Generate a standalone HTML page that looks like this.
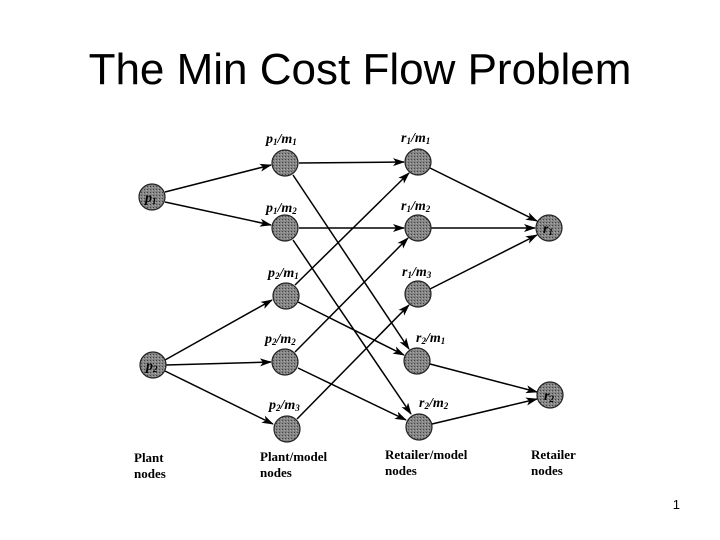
<!DOCTYPE html>
<html><head><meta charset="utf-8"><style>
body{margin:0;width:720px;height:540px;background:#fff;overflow:hidden;position:relative;font-family:"Liberation Sans",sans-serif}
h1{position:absolute;top:45px;left:0;width:720px;text-align:center;margin:0;font-weight:normal;font-size:44px;color:#000}
svg{position:absolute;left:0;top:0}
.pn{position:absolute;right:40px;top:497px;font-size:13px}
</style></head><body>
<h1>The Min Cost Flow Problem</h1>
<svg width="720" height="540" font-family="Liberation Serif, serif">
<defs>
<marker id="a" markerWidth="12" markerHeight="8" refX="11" refY="4" orient="auto" markerUnits="userSpaceOnUse"><path d="M0,0 L12,4 L0,8 L3,4z" fill="#000"/></marker>
<pattern id="s" width="3" height="3" patternUnits="userSpaceOnUse"><rect width="3" height="3" fill="#858585"/><rect width="1" height="1" fill="#444"/><rect x="2" y="1" width="1" height="1" fill="#aaa"/></pattern>
</defs>
<g stroke="#000" stroke-width="1.5" marker-end="url(#a)">
<line x1="165" y1="192" x2="271" y2="165"/>
<line x1="165" y1="202" x2="271" y2="225"/>
<line x1="165" y1="360" x2="272" y2="300"/>
<line x1="166" y1="365" x2="271" y2="362"/>
<line x1="165" y1="371" x2="273" y2="424"/>
<line x1="299" y1="163" x2="404" y2="162"/>
<line x1="293" y1="175" x2="409" y2="349"/>
<line x1="299" y1="228" x2="404" y2="228"/>
<line x1="293" y1="240" x2="411" y2="414"/>
<line x1="295" y1="285" x2="409" y2="173"/>
<line x1="298" y1="302" x2="404" y2="355"/>
<line x1="295" y1="352" x2="408" y2="238"/>
<line x1="298" y1="368" x2="406" y2="420"/>
<line x1="297" y1="419" x2="409" y2="305"/>
<line x1="430" y1="168" x2="537" y2="221"/>
<line x1="431" y1="228" x2="535" y2="228"/>
<line x1="430" y1="289" x2="537" y2="235"/>
<line x1="430" y1="364" x2="537" y2="392"/>
<line x1="432" y1="424" x2="537" y2="399"/>
</g>
<g fill="url(#s)" stroke="#222" stroke-width="1.2">
<circle cx="152" cy="197" r="13"/><circle cx="153" cy="365" r="13"/>
<circle cx="285" cy="163" r="13"/><circle cx="285" cy="228" r="13"/><circle cx="286" cy="296" r="13"/><circle cx="285" cy="362" r="13"/><circle cx="287" cy="429" r="13"/>
<circle cx="418" cy="162" r="13"/><circle cx="418" cy="228" r="13"/><circle cx="418" cy="294" r="13"/><circle cx="417" cy="361" r="13"/><circle cx="419" cy="427" r="13"/>
<circle cx="549" cy="228" r="13"/><circle cx="550" cy="395" r="13"/>
</g>
<g font-size="14" font-style="italic" font-weight="bold" fill="#000">
<text x="145" y="202">p<tspan font-size="9" dy="2">1</tspan></text>
<text x="146" y="370">p<tspan font-size="9" dy="2">2</tspan></text>
<text x="543" y="233">r<tspan font-size="9" dy="2">1</tspan></text>
<text x="544" y="400">r<tspan font-size="9" dy="2">2</tspan></text>
<text x="266" y="143">p<tspan font-size="9" dy="2">1</tspan><tspan dy="-2">/m</tspan><tspan font-size="9" dy="2">1</tspan></text>
<text x="266" y="212">p<tspan font-size="9" dy="2">1</tspan><tspan dy="-2">/m</tspan><tspan font-size="9" dy="2">2</tspan></text>
<text x="268" y="277">p<tspan font-size="9" dy="2">2</tspan><tspan dy="-2">/m</tspan><tspan font-size="9" dy="2">1</tspan></text>
<text x="265" y="343">p<tspan font-size="9" dy="2">2</tspan><tspan dy="-2">/m</tspan><tspan font-size="9" dy="2">2</tspan></text>
<text x="269" y="409">p<tspan font-size="9" dy="2">2</tspan><tspan dy="-2">/m</tspan><tspan font-size="9" dy="2">3</tspan></text>
<text x="401" y="142">r<tspan font-size="9" dy="2">1</tspan><tspan dy="-2">/m</tspan><tspan font-size="9" dy="2">1</tspan></text>
<text x="401" y="210">r<tspan font-size="9" dy="2">1</tspan><tspan dy="-2">/m</tspan><tspan font-size="9" dy="2">2</tspan></text>
<text x="402" y="276">r<tspan font-size="9" dy="2">1</tspan><tspan dy="-2">/m</tspan><tspan font-size="9" dy="2">3</tspan></text>
<text x="416" y="342">r<tspan font-size="9" dy="2">2</tspan><tspan dy="-2">/m</tspan><tspan font-size="9" dy="2">1</tspan></text>
<text x="419" y="407">r<tspan font-size="9" dy="2">2</tspan><tspan dy="-2">/m</tspan><tspan font-size="9" dy="2">2</tspan></text>
</g>
<g font-size="13" font-weight="bold" fill="#000">
<text x="134" y="462">Plant</text><text x="134" y="478">nodes</text>
<text x="260" y="461">Plant/model</text><text x="260" y="477">nodes</text>
<text x="385" y="459">Retailer/model</text><text x="385" y="475">nodes</text>
<text x="531" y="459">Retailer</text><text x="531" y="475">nodes</text>
</g>
</svg>
<div class="pn">1</div>
</body></html>
